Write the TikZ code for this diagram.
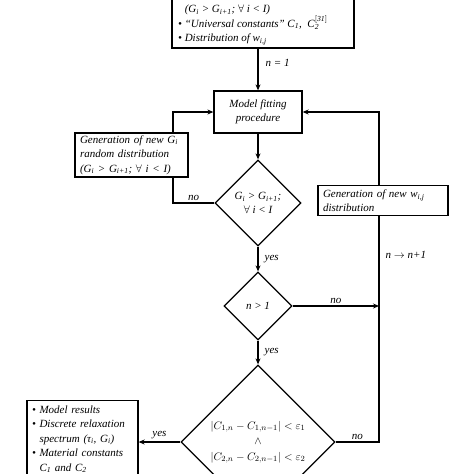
\documentclass[tikz,border=0pt]{standalone}
\usepackage{fontspec}
\setmainfont{Liberation Serif}
\usetikzlibrary{shapes.geometric,arrows.meta}
\newcommand{\lo}[1]{\textsubscript{#1}}
\tikzset{
	box/.style={draw, line width=1.3pt, inner sep=0pt},
	decision/.style={diamond, draw, line width=1.3pt, inner sep=0pt, aspect=1, align=center},
	flow/.style={line width=1.3pt, -{Stealth[length=6pt,width=5pt]}},
	link/.style={line width=1.3pt},
	lbl/.style={inner sep=2pt},
}

\begin{document}
\begin{tikzpicture}[x=1pt,y=1pt,yscale=-1,xscale=1,font=\fontsize{11}{14.5}\selectfont\itshape]
	\useasboundingbox (0,0) rectangle (474,474);
	% boxes
	\node (init) [box, minimum width=182pt, minimum height=90pt] at (263,3) {};
	\node (initTxt) [anchor=south west, align=left, inner sep=0pt] at (178,45) {\phantom{\textbullet\ }(G\lo{i} > G\lo{i+1}; $\forall$ i < I)\\ \textbullet\ ``Universal constants'' C\lo{1}, \ C$_{\mathit{2}}^{\mathit{[31]}}$\\ \textbullet\ Distribution of w\lo{i,j}};
	\node (fit) [box, minimum width=88pt, minimum height=42pt, align=center] at (258,112) {Model fitting\\procedure};
	\node (genG) [box, text width=103pt, inner xsep=5pt, inner ysep=2pt, minimum height=44pt, align=left] at (131.5,155) {Generation of new G\lo{i}\\random distribution\\(G\lo{i} > G\lo{i+1}; $\forall$ i < I)};
	\node (genW) [box, anchor=north, text width=120pt, inner xsep=5pt, inner ysep=4pt, text depth=14pt, align=left] at (383,185) {Generation of new w\lo{i,j}\\distribution};
	\node (result) [box, anchor=north, text width=101pt, inner xsep=5pt, inner ysep=5pt, align=left] at (82.5,400) {\textbullet\ Model results\\ \textbullet\ Discrete relaxation\\ \phantom{\textbullet\ }spectrum (τ\lo{i}, G\lo{i})\\ \textbullet\ Material constants\\ \phantom{\textbullet\ }C\lo{1} and C\lo{2}};
	% decisions
	\node (d1) [decision, minimum width=86pt, minimum height=86pt] at (258,203) {G\lo{i} > G\lo{i+1};\\$\forall$ i < I};
	\node (d2) [decision, minimum width=68pt, minimum height=68pt] at (258,306) {n > 1};
	\node (d3) [decision, minimum width=154pt, minimum height=154pt] at (258,442) {$\big|C_{1,n}-C_{1,n-1}\big|<\varepsilon_1$\\[1pt]$\wedge$\\[1pt]$\big|C_{2,n}-C_{2,n-1}\big|<\varepsilon_2$};
	\coordinate (lline) at (173,203);
	\coordinate (rline) at (379,442);
	% connectors
	\draw[flow] (fit.north |- init.south) -- node[lbl, right=5pt, pos=0.35] {n = 1} (fit.north);
	\draw[flow] (fit.south) -- (d1.north);
	\draw[link] (d1.west) -- node[lbl, above] {no} (lline) -- (genG.south -| lline);
	\draw[flow] (genG.north -| lline) |- (fit.west);
	\draw[flow] (d1.south) -- node[lbl, right=4pt] {yes} (d2.north);
	\draw[flow] (d2.south) -- node[lbl, right=4pt] {yes} (d3.north);
	\draw[flow] (d2.east) -- node[lbl, above] {no} (d2.east -| rline);
	\draw[link] (d3.east) -- node[lbl, above] {no} (rline) -- node[lbl, right=4pt, pos=0.83] {n $\rightarrow$ n+1} (genW.south -| rline);
	\draw[flow] (genW.north -| rline) |- (fit.east);
	\draw[flow] (d3.west) -- node[lbl, above] {yes} (result.east |- d3.west);
\end{tikzpicture}
\end{document}
